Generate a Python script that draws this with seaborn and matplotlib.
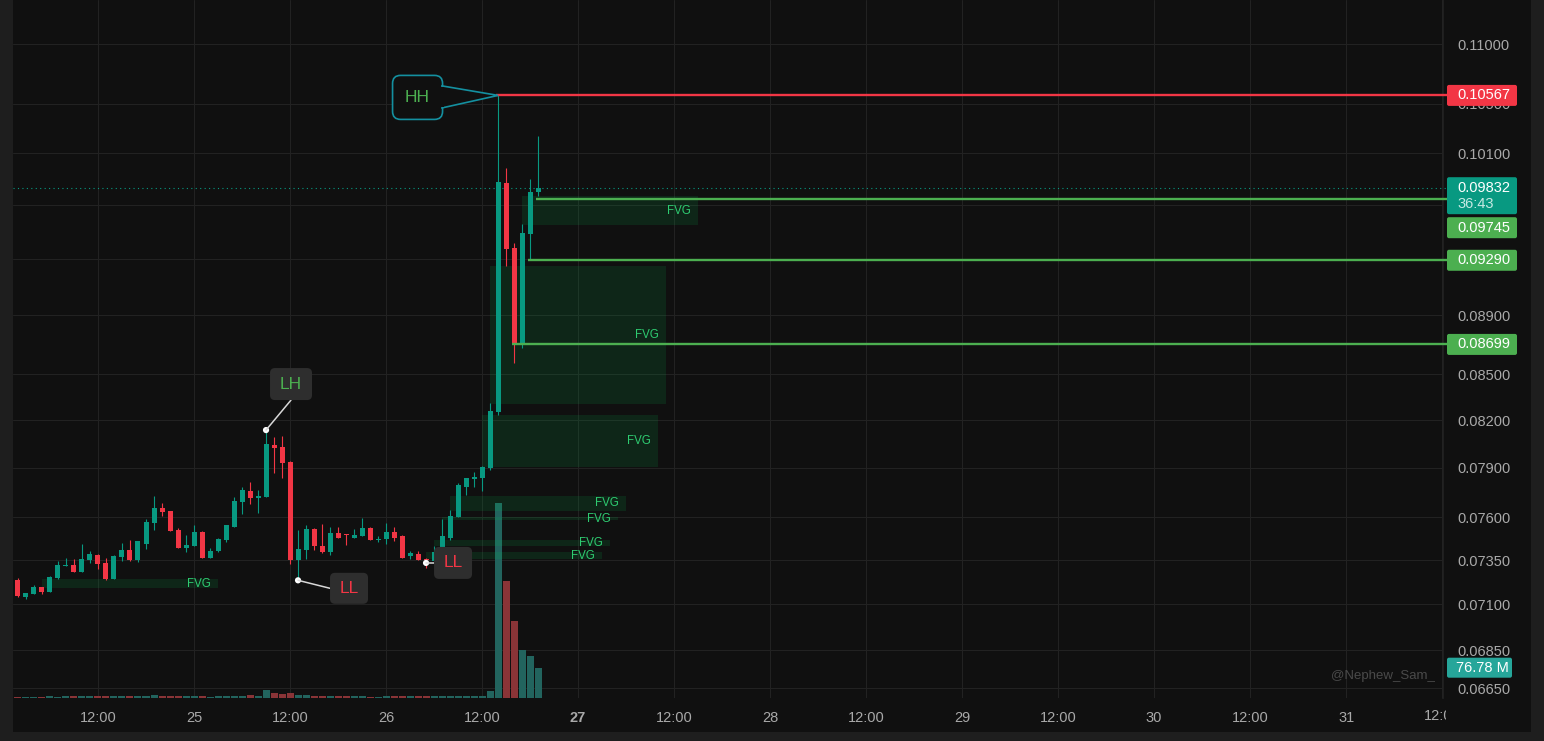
import numpy as np
import pandas as pd
import matplotlib
matplotlib.use("Agg")
import matplotlib.pyplot as plt
import matplotlib.dates as mdates
from matplotlib.patches import FancyBboxPatch, Polygon
from matplotlib.transforms import Bbox
from matplotlib.ticker import NullLocator
import seaborn as sns

# ---------------- data ----------------
times = pd.date_range("2024-10-24 02:00", periods=66, freq="h")
opens = [0.07235, 0.07139, 0.07160, 0.07195, 0.07172, 0.07250, 0.07318, 0.07321, 0.07283, 0.07352,
         0.07379, 0.07333, 0.07241, 0.07367, 0.07408, 0.07350, 0.07446, 0.07564, 0.07653, 0.07636,
         0.07523, 0.07422, 0.07434, 0.07511, 0.07365, 0.07400, 0.07464, 0.07541, 0.07689, 0.07758,
         0.07713, 0.07719, 0.08042, 0.08030, 0.07937, 0.07350, 0.07408, 0.07529, 0.07430, 0.07396,
         0.07505, 0.07499, 0.07481, 0.07487, 0.07535, 0.07464, 0.07470, 0.07511, 0.07487, 0.07373,
         0.07385, 0.07356, 0.07344, 0.07396, 0.07481, 0.07600, 0.07783, 0.07832, 0.07838, 0.07900,
         0.08251, 0.09867, 0.09380, 0.08699, 0.09482, 0.09799]
highs = [0.07247, 0.07166, 0.07206, 0.07197, 0.07258, 0.07344, 0.07362, 0.07356, 0.07442, 0.07402,
         0.07385, 0.07362, 0.07379, 0.07448, 0.07465, 0.07459, 0.07588, 0.07730, 0.07683, 0.07636,
         0.07535, 0.07493, 0.07553, 0.07517, 0.07419, 0.07481, 0.07553, 0.07719, 0.07783, 0.07814,
         0.07764, 0.08128, 0.08091, 0.08097, 0.07943, 0.07523, 0.07553, 0.07535, 0.07558, 0.07541,
         0.07541, 0.07502, 0.07529, 0.07594, 0.07541, 0.07487, 0.07564, 0.07541, 0.07493, 0.07402,
         0.07402, 0.07362, 0.07434, 0.07588, 0.07642, 0.07807, 0.07838, 0.07875, 0.07912, 0.08309,
         0.10567, 0.09982, 0.09416, 0.09556, 0.09897, 0.10234]
lows = [0.07139, 0.07128, 0.07156, 0.07156, 0.07168, 0.07242, 0.07316, 0.07283, 0.07283, 0.07334,
        0.07300, 0.07237, 0.07241, 0.07346, 0.07344, 0.07339, 0.07416, 0.07523, 0.07606, 0.07517,
        0.07422, 0.07398, 0.07434, 0.07360, 0.07360, 0.07396, 0.07452, 0.07541, 0.07618, 0.07677,
        0.07624, 0.07719, 0.07869, 0.07838, 0.07327, 0.07235, 0.07356, 0.07408, 0.07390, 0.07379,
        0.07481, 0.07440, 0.07481, 0.07487, 0.07464, 0.07452, 0.07446, 0.07458, 0.07360, 0.07356,
        0.07350, 0.07304, 0.07344, 0.07396, 0.07464, 0.07600, 0.07733, 0.07783, 0.07758, 0.07888,
        0.08232, 0.09249, 0.08573, 0.08678, 0.09290, 0.09768]
closes = [0.07145, 0.07166, 0.07195, 0.07172, 0.07252, 0.07321, 0.07322, 0.07283, 0.07356, 0.07385,
          0.07329, 0.07241, 0.07373, 0.07408, 0.07350, 0.07459, 0.07570, 0.07653, 0.07630, 0.07517,
          0.07422, 0.07440, 0.07511, 0.07365, 0.07402, 0.07470, 0.07553, 0.07695, 0.07764, 0.07713,
          0.07725, 0.08048, 0.08023, 0.07931, 0.07350, 0.07413, 0.07529, 0.07430, 0.07396, 0.07505,
          0.07481, 0.07493, 0.07493, 0.07535, 0.07464, 0.07475, 0.07511, 0.07481, 0.07365, 0.07390,
          0.07350, 0.07350, 0.07396, 0.07487, 0.07606, 0.07795, 0.07838, 0.07844, 0.07906, 0.08258,
          0.09874, 0.09373, 0.08699, 0.09489, 0.09799, 0.09832]
volumes_m = [1.6, 1.8, 1.7, 1.5, 4.4, 1.8, 4.2, 4.5, 4.1, 4.3,
             4.6, 4.2, 4.4, 4.0, 4.5, 4.3, 4.2, 6.9, 4.4, 4.1,
             4.3, 4.2, 4.5, 4.0, 1.7, 4.3, 4.4, 4.2, 4.5, 6.8,
             4.3, 19.6, 12.2, 9.4, 12.0, 6.9, 6.7, 4.3, 4.4, 4.2,
             4.5, 4.1, 4.3, 4.2, 1.8, 1.6, 4.4, 4.3, 4.2, 4.5,
             4.1, 4.4, 4.3, 4.2, 4.5, 4.4, 4.3, 4.2, 4.6, 18.5,
             495.0, 297.0, 196.0, 122.0, 107.0, 76.78]

fvg_start = ["2024-10-24 05:00", "2024-10-26 17:00", "2024-10-26 13:00", "2024-10-26 12:00",
             "2024-10-26 08:00", "2024-10-26 07:00", "2024-10-26 06:00", "2024-10-26 05:00"]
fvg_top = [0.07241, 0.09768, 0.09249, 0.08232, 0.07730, 0.07600, 0.07464, 0.07396]
fvg_bottom = [0.07192, 0.09548, 0.08302, 0.07906, 0.07636, 0.07582, 0.07430, 0.07356]
fvg_hours = 22
fvg_text = "FVG"

level_prices = [0.10567, 0.09745, 0.09290, 0.08699]
level_start = ["2024-10-26 14:00", "2024-10-26 19:00", "2024-10-26 18:00", "2024-10-26 16:00"]
last_price = 0.09832
countdown = "36:43"
volume_label = "76.78 M"

pivot_names = ["LH", "LL", "LL", "HH"]
pivot_times = ["2024-10-25 09:00", "2024-10-25 13:00", "2024-10-26 05:00", "2024-10-26 14:00"]
pivot_prices = [0.08136, 0.07235, 0.07334, 0.10567]

time_ticks = pd.date_range("2024-10-24 12:00", periods=15, freq="12h")
time_labels = ["12:00", "25", "12:00", "26", "12:00", "27", "12:00", "28",
               "12:00", "29", "12:00", "30", "12:00", "31", "12:00"]
price_ticks = [0.11000, 0.10500, 0.10100, 0.09700, 0.09300, 0.08900, 0.08500,
               0.08200, 0.07900, 0.07600, 0.07350, 0.07100, 0.06850, 0.06650]
# tick labels hidden behind the price tags in the reference
price_ticks_hidden = [0.09700, 0.09300]
watermark = "@Nephew_Sam_"

# ---------------- style ----------------
BG = "#101010"
FRAME = "#1e1e1e"
GRID = "#222222"
TXT = "#a9a9a9"
UP = "#089981"
DN = "#f23645"
VOL_UP = "#22645e"
VOL_DN = "#8a3437"
GREEN = "#4caf50"
FVG_FILL = "#00c853"
FVG_TXT = "#2ecc71"
LABEL_BOX = "#2e2e2e"
HH_EDGE = "#1490a0"
FS = 10.5

sns.set_theme(style="dark", rc={"axes.facecolor": "none", "figure.facecolor": FRAME,
                                "text.color": TXT, "xtick.color": TXT, "ytick.color": TXT,
                                "grid.color": GRID, "axes.edgecolor": GRID})
plt.rcParams["font.family"] = ["Liberation Sans", "DejaVu Sans"]

W, H = 1544, 741
fig = plt.figure(figsize=(W / 100, H / 100), dpi=100)
fig.patch.set_facecolor(FRAME)

panel = fig.add_axes([12.7 / W, (H - 732) / H, (1531 - 12.7) / W, 732 / H])
panel.set_facecolor(BG)
panel.set_xticks([]); panel.set_yticks([])
for s in panel.spines.values():
    s.set_visible(False)

rect = [12.7 / W, (H - 698) / H, (1443 - 12.7) / W, 698 / H]
axg = fig.add_axes(rect)
axg.set_yscale("log")
vax = fig.add_axes(rect, sharex=axg)
ax = fig.add_axes(rect, sharex=axg, sharey=axg)
for a in (axg, vax, ax):
    a.set_facecolor("none")
    for s in a.spines.values():
        s.set_visible(False)
axg.spines["right"].set_visible(True)
axg.spines["right"].set_color(GRID)

tnum = mdates.date2num(times.values)
o = np.array(opens); hi = np.array(highs); lo = np.array(lows); c = np.array(closes)
up = c >= o
hour = 1 / 24

# volume (seaborn, native numeric x)
vol_df = pd.DataFrame({"t": tnum, "volume": volumes_m, "side": np.where(up, "up", "down")})
sns.barplot(data=vol_df, x="t", y="volume", hue="side", palette={"up": VOL_UP, "down": VOL_DN},
            native_scale=True, orient="x", dodge=False, width=0.875, saturation=1,
            errorbar=None, legend=False, linewidth=0, ax=vax)
vax.set_ylim(0, volumes_m[-1] * 698 / 30.3)

# FVG boxes
fs = mdates.date2num(pd.to_datetime(fvg_start).values)
ftop = np.array(fvg_top); fbot = np.array(fvg_bottom)
ax.bar(fs, ftop - fbot, bottom=fbot, width=fvg_hours * hour, align="edge",
       color=FVG_FILL, alpha=0.12, linewidth=0, zorder=1)
for s0, t0, b0 in zip(fs, ftop, fbot):
    ax.text(s0 + (fvg_hours - 0.9) * hour, np.sqrt(t0 * b0), fvg_text, ha="right", va="center",
            color=FVG_TXT, fontsize=8.3, zorder=2)

# candles
col = np.where(up, UP, DN)
ax.vlines(tnum, lo, hi, colors=col, linewidth=0.8, zorder=3)
ax.bar(tnum, np.maximum(np.abs(c - o), 4e-5), bottom=np.minimum(o, c), width=0.625 * hour,
       color=col, linewidth=0, zorder=3)

# pivot dots
pt = mdates.date2num(pd.to_datetime(pivot_times).values)
sns.scatterplot(x=pt[:3], y=pivot_prices[:3], ax=ax, color="white", s=20, edgecolor="none", zorder=6)

# limits
base = mdates.date2num(np.datetime64("2024-10-25T00:00"))
xl, xr = base - 22.66 * hour, base + 156.1 * hour
axg.set_xlim(xl, xr)
axg.set_ylim(0.0659945, 0.113847)
x_ext = xr + 0.5 * hour

# level lines and current price line
ls = mdates.date2num(pd.to_datetime(level_start).values)
for p, s0, colr in zip(level_prices, ls, [DN, GREEN, GREEN, GREEN]):
    ax.hlines(p, s0 - 0.3 * hour, x_ext, colors=colr, linewidth=1.7, zorder=4, clip_on=False)
ax.hlines(last_price, xl, x_ext, colors=UP, linewidth=0.8, linestyles=(0, (1, 3)),
          zorder=2, clip_on=False)

# ticks / grid
axg.set_xticks(mdates.date2num(time_ticks.values), time_labels[:-1] + [""])
axg.set_yticks(price_ticks, ["" if v in price_ticks_hidden else f"{v:.5f}" for v in price_ticks])
axg.yaxis.set_minor_locator(NullLocator())
axg.yaxis.tick_right()
axg.tick_params(axis="y", which="both", length=0, pad=10, labelsize=FS, labelcolor=TXT)
axg.tick_params(axis="x", which="both", length=0, pad=9, labelsize=FS, labelcolor=TXT)
axg.grid(True, which="major", color=GRID, linewidth=0.75)
for t in axg.get_xticklabels():
    if t.get_text() == "27":
        t.set_fontweight("bold")
for a in (ax, vax):
    a.grid(False)
    a.set_xlabel(""); a.set_ylabel("")
    a.tick_params(which="both", left=False, labelleft=False, bottom=False, labelbottom=False,
                  right=False, labelright=False)
axg.set_xlabel(""); axg.set_ylabel("")

# ---------------- overlay in pixel space ----------------
ov = fig.add_axes([0, 0, 1, 1])
ov.set_xlim(0, W); ov.set_ylim(H, 0); ov.axis("off")


def px(t, p, axis=ax):
    X, Y = axis.transData.transform((t, p))
    return X, H - Y


# pivot labels
box_geo = [(25, -46, 42, 32, "bottom"), (51, 8, 38, 31, "left"), (27, 0, 38, 32, "left")]
for i in range(3):
    dx, dy, bw, bh, anchor = box_geo[i]
    x0, y0 = px(pt[i], pivot_prices[i])
    cx, cy = x0 + dx, y0 + dy
    ex, ey = (cx, cy + bh / 2) if anchor == "bottom" else (cx - bw / 2, cy)
    ov.plot([x0, ex], [y0, ey], color="#d8d8d8", linewidth=1.1, zorder=1)
    ov.add_patch(FancyBboxPatch((cx - bw / 2, cy - bh / 2), bw, bh,
                                boxstyle="round,pad=0,rounding_size=5",
                                fc=LABEL_BOX, ec="none", zorder=2))
    ov.text(cx, cy, pivot_names[i], ha="center", va="center", fontsize=12.5,
            color=GREEN if pivot_names[i][1] == "H" else DN, zorder=3)

# HH callout
tx, ty = px(pt[3], pivot_prices[3])
cx, cy, bw, bh = tx - 80.5, ty + 2, 50, 44
ov.add_patch(FancyBboxPatch((cx - bw / 2, cy - bh / 2), bw, bh,
                            boxstyle="round,pad=0,rounding_size=8",
                            fc=BG, ec=HH_EDGE, linewidth=1.2, zorder=2))
ov.add_patch(Polygon([(cx + bw / 2 - 0.5, cy - 11.5), (tx, ty), (cx + bw / 2 - 0.5, cy + 10.5)],
                     closed=True, fc=BG, ec=HH_EDGE, linewidth=1.2, zorder=3))
ov.add_patch(Polygon([(cx + bw / 2 - 2, cy - 10.3), (cx + bw / 2 + 1.5, cy - 10.3),
                      (cx + bw / 2 + 1.5, cy + 9.3), (cx + bw / 2 - 2, cy + 9.3)],
                     closed=True, fc=BG, ec="none", zorder=4))
ov.text(cx, cy, pivot_names[3], ha="center", va="center", fontsize=12.5, color=GREEN, zorder=5)

# right-hand price labels
plabels = [(level_prices[0], DN, [f"{level_prices[0]:.5f}"]),
           (last_price, UP, [f"{last_price:.5f}", countdown]),
           (level_prices[1], GREEN, [f"{level_prices[1]:.5f}"]),
           (level_prices[2], GREEN, [f"{level_prices[2]:.5f}"]),
           (level_prices[3], GREEN, [f"{level_prices[3]:.5f}"])]
prev_bottom = -1e9
for p, colr, lines in sorted(plabels, key=lambda r: -r[0]):
    _, yp = px(tnum[0], p)
    bh = 21 if len(lines) == 1 else 37
    top = max(yp - 10.5, prev_bottom + 3)
    ov.add_patch(FancyBboxPatch((1447, top), 70, bh, boxstyle="round,pad=0,rounding_size=2",
                                fc=colr, ec="none", zorder=5))
    ov.text(1457, top + 10.5, lines[0], ha="left", va="center", fontsize=FS, color="white", zorder=6)
    if len(lines) > 1:
        ov.text(1457, top + 27, lines[1], ha="left", va="center", fontsize=FS,
                color="#c6e9e3", zorder=6)
    prev_bottom = top + bh

_, yv = px(tnum[-1], volumes_m[-1], vax)
ov.add_patch(FancyBboxPatch((1447, yv - 10), 65, 20, boxstyle="round,pad=0,rounding_size=2",
                            fc="#26a69a", ec="none", zorder=5))
ov.text(1456, yv, volume_label, ha="left", va="center", fontsize=FS, color="white", zorder=6)

# watermark
ov.text(1383, 676, watermark, ha="center", va="center", fontsize=9.5, color="#4a4a4a")

# clipped last time label
lx, _ = px(mdates.date2num(time_ticks.values[-1]), last_price)
lt = ov.text(lx, 716, time_labels[-1], ha="center", va="center", fontsize=FS, color=TXT)
lt.set_clip_on(True)
lt.set_clip_box(Bbox.from_extents(0, 0, 1446, H))

fig.savefig("out.png", dpi=100, facecolor=FRAME)
